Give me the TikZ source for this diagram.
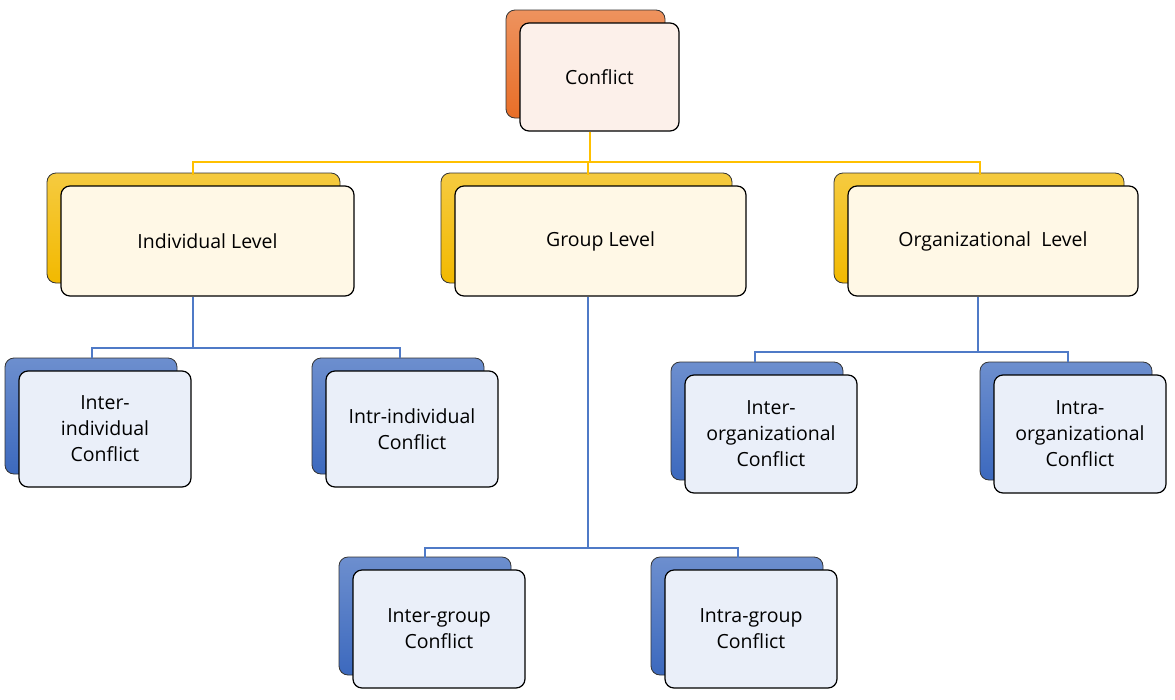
\documentclass[tikz,border=0pt]{standalone}
\usepackage{fontspec}
\setmainfont{Open Sans}
\begin{document}
\begin{tikzpicture}[x=1pt,y=-1pt,
  front/.style={draw=black,line width=1.2pt,rounded corners=9pt,align=center,font=\fontsize{19.5}{26}\selectfont,inner sep=0pt},
  back/.style={draw=black!80,line width=0.8pt,rounded corners=9pt},
  yl/.style={draw={rgb,255:red,255;green,192;blue,0},line width=1.6pt},
  bl/.style={draw={rgb,255:red,79;green,122;blue,199},line width=1.6pt}]
\useasboundingbox (0,0) rectangle (1175,699);
\definecolor{orb}{RGB}{232,110,40}\definecolor{orf}{RGB}{252,240,234}
\definecolor{yeb}{RGB}{242,185,0}\definecolor{yef}{RGB}{255,248,230}
\definecolor{blb}{RGB}{60,105,190}\definecolor{blf}{RGB}{234,239,249}
\newcommand\dbox[8]{%
  \draw[back,top color=#6!75,bottom color=#6] (#2,#3) rectangle ++(#4,#5);
  \node[front,fill=#7,minimum width=#4 pt,minimum height=#5 pt] (#1) at ({#2+14+#4/2},{#3+13+#5/2}) {#8};}
\dbox{c}{506}{10}{159}{108}{orb}{orf}{Conflict}
\dbox{il}{47}{173}{293}{110}{yeb}{yef}{Individual Level}
\dbox{gl}{441}{173}{291}{110}{yeb}{yef}{Group Level}
\dbox{ol}{834}{173}{290}{110}{yeb}{yef}{Organizational\ \ Level}
\dbox{ii}{5}{358}{172}{116}{blb}{blf}{Inter-\\individual\\Conflict}
\dbox{ri}{312}{358}{172}{116}{blb}{blf}{Intr-individual\\Conflict}
\dbox{ig}{339}{557}{172}{118}{blb}{blf}{Inter-group\\Conflict}
\dbox{rg}{651}{557}{172}{118}{blb}{blf}{Intra-group\\Conflict}
\dbox{io}{671}{362}{172}{118}{blb}{blf}{Inter-\\organizational\\Conflict}
\dbox{ro}{980}{362}{172}{118}{blb}{blf}{Intra-\\organizational\\Conflict}
\coordinate (cy) at (590,162);
\draw[yl] (c.south -| cy) -- (cy);
\draw[yl] (193,175) |- (cy) -| (980,175);
\draw[yl] (cy) -| (588,175);
\draw[bl] (193,297) -- (193,348);
\draw[bl] (92,358) |- (193,348) -| (400,358);
\draw[bl] (588,297) -- (588,548);
\draw[bl] (425,558) |- (588,548) -| (738,558);
\draw[bl] (978,297) -- (978,352);
\draw[bl] (755,362) |- (978,352) -| (1068,362);
\end{tikzpicture}
\end{document}
